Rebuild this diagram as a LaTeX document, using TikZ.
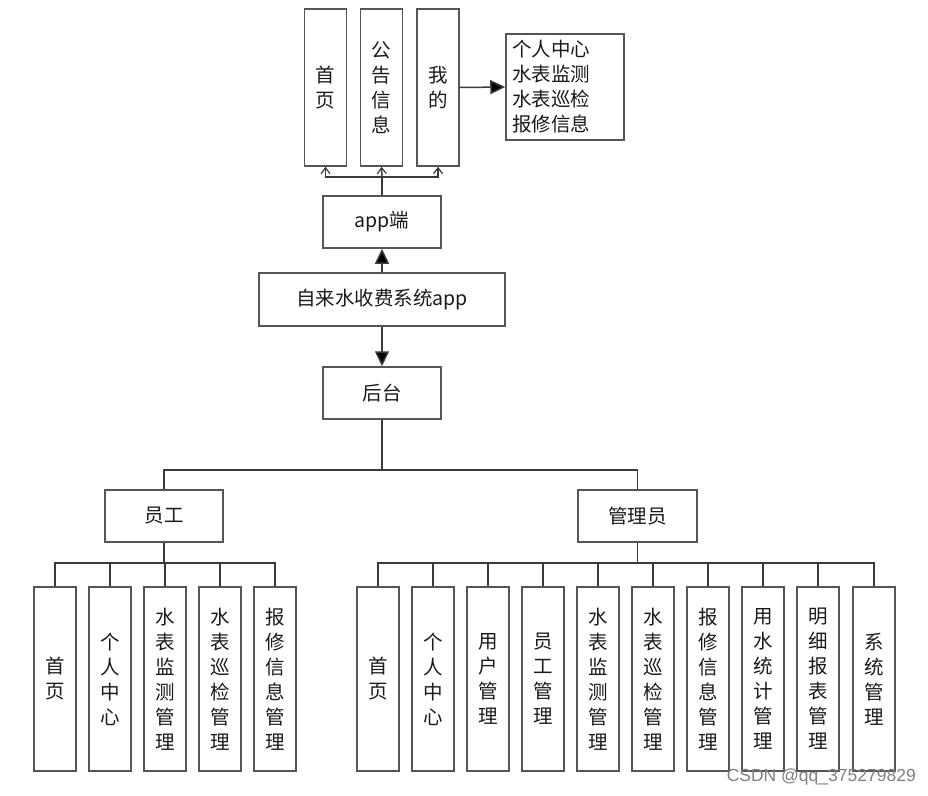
\documentclass[tikz,border=0pt]{standalone}
\usepackage{fontspec}
\setmainfont{Noto Sans CJK SC}
\newfontfamily\wmfont{Liberation Sans}
\usetikzlibrary{arrows.meta}
\definecolor{boxline}{HTML}{555555}
\definecolor{conn}{HTML}{3A3A3A}
\definecolor{txt}{HTML}{1A1A1A}
\tikzset{
  box/.style={draw=boxline, line width=1.5pt, fill=white, text=txt, inner sep=0pt,
    font=\fontsize{19.5}{25}\selectfont, align=center},
  hbox/.style={box, minimum width=118pt, minimum height=52pt},
  vbox/.style={box, minimum width=42pt, minimum height=157pt},
  lbox/.style={box, minimum width=42pt, minimum height=184pt},
  conline/.style={draw=conn, line width=1.5pt},
  fillarrow/.style={conline, -{Triangle[length=15pt,width=14pt,fill=black]}},
  openarrow/.style={conline, -{Straight Barb[length=6pt,width=9pt,line width=1.2pt]}},
}
\begin{document}
\begin{tikzpicture}[x=1pt,y=-1pt]
\useasboundingbox[fill=white] (0,0) rectangle (928,795);
% top level
\node[vbox] (t1) at (325.5,87.5) {首\\页};
\node[vbox] (t2) at (381.5,87.5) {公\\告\\信\\息};
\node[vbox] (t3) at (438,87.5) {我\\的};
\node[box, minimum width=118pt, minimum height=106pt, align=left, text width=106pt] (r) at (565,87) {个人中心\\水表监测\\水表巡检\\报修信息};
\node[hbox] (app) at (382,222) {app端};
\node[hbox, minimum width=246pt, minimum height=53pt] (sys) at (382,299.5) {自来水收费系统app};
\node[hbox] (ht) at (382,393) {后台};
\node[hbox] (yg) at (164,516) {员工};
\node[hbox, minimum width=119pt] (gl) at (637.5,516) {管理员};
% employee children
\node[lbox] (e1) at (55,679) {首\\页};
\node[lbox] (e2) at (110,679) {个\\人\\中\\心};
\node[lbox] (e3) at (165,679) {水\\表\\监\\测\\管\\理};
\node[lbox] (e4) at (220,679) {水\\表\\巡\\检\\管\\理};
\node[lbox] (e5) at (275,679) {报\\修\\信\\息\\管\\理};
% admin children
\node[lbox] (a1) at (378,679) {首\\页};
\node[lbox] (a2) at (433,679) {个\\人\\中\\心};
\node[lbox] (a3) at (488,679) {用\\户\\管\\理};
\node[lbox] (a4) at (543,679) {员\\工\\管\\理};
\node[lbox] (a5) at (598,679) {水\\表\\监\\测\\管\\理};
\node[lbox] (a6) at (653,679) {水\\表\\巡\\检\\管\\理};
\node[lbox] (a7) at (708,679) {报\\修\\信\\息\\管\\理};
\node[lbox] (a8) at (763,679) {用\\水\\统\\计\\管\\理};
\node[lbox] (a9) at (818,679) {明\\细\\报\\表\\管\\理};
\node[lbox] (a10) at (874,679) {系\\统\\管\\理};
% connectors top
\coordinate (j1) at (382,177);
\draw[conline] (app.north) -- (j1);
\draw[openarrow] (j1) -| (t1.south);
\draw[openarrow] (j1) -- (t2.south);
\draw[openarrow] (j1) -| (t3.south);
\draw[fillarrow] (t3.east) -- (r.west);
\draw[fillarrow] (sys.north) -- (app.south);
\draw[fillarrow] (sys.south) -- (ht.north);
% connectors middle
\coordinate (j2) at (382,470);
\draw[conline] (ht.south) -- (j2);
\draw[conline] (j2) -| (yg.north);
\draw[conline] (j2) -| (gl.north);
% employee bus
\coordinate (eb) at (164,563);
\draw[conline] (yg.south) -- (eb);
\foreach \i in {1,...,5} \draw[conline] (eb) -| (e\i.north);
% admin bus
\coordinate (ab) at (637.5,563);
\draw[conline] (gl.south) -- (ab);
\foreach \i in {1,...,10} \draw[conline] (ab) -| (a\i.north);
% watermark
\node[anchor=east, inner sep=0pt, text=black!50, font=\wmfont\fontsize{17.5}{17.5}\selectfont] (wm) at (916,777) {CSDN @qq\_375279829};
\end{tikzpicture}
\end{document}
